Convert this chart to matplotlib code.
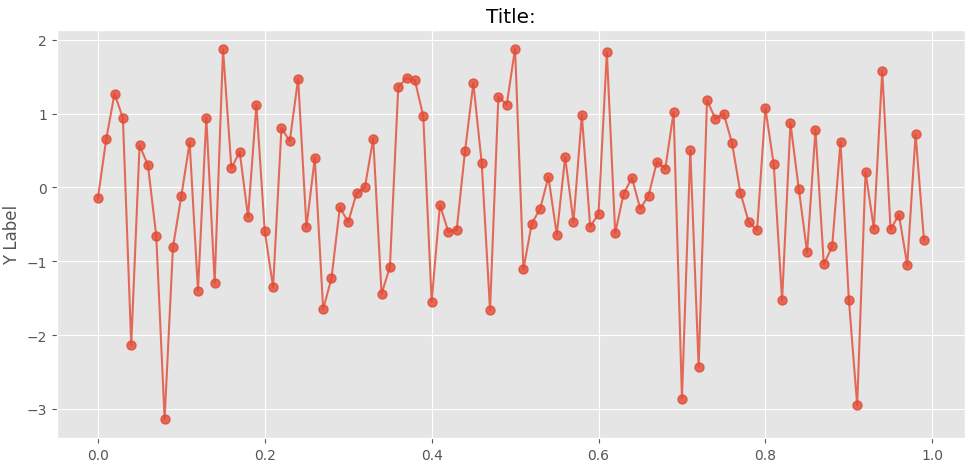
import matplotlib
matplotlib.use('Agg')
from matplotlib import pyplot as plt
import numpy as np

plt.style.use('ggplot')

x = np.arange(100) / 100.0
y = [-0.15, 0.65, 1.27, 0.94, -2.13, 0.57, 0.30, -0.66, -3.14, -0.81,
     -0.12, 0.61, -1.40, 0.94, -1.29, 1.87, 0.26, 0.48, -0.40, 1.12,
     -0.59, -1.35, 0.80, 0.63, 1.47, -0.54, 0.40, -1.65, -1.23, -0.27,
     -0.47, -0.08, 0.00, 0.66, -1.44, -1.08, 1.36, 1.48, 1.45, 0.96,
     -1.55, -0.24, -0.60, -0.58, 0.49, 1.41, 0.33, -1.66, 1.23, 1.12,
     1.88, -1.11, -0.49, -0.29, 0.14, -0.64, 0.41, -0.47, 0.98, -0.53,
     -0.36, 1.83, -0.62, -0.09, 0.13, -0.29, -0.11, 0.35, 0.25, 1.02,
     -2.86, 0.50, -2.43, 1.18, 0.93, 1.00, 0.60, -0.07, -0.47, -0.58,
     1.07, 0.31, -1.53, 0.87, -0.02, -0.88, 0.78, -1.04, -0.80, 0.62,
     -1.52, -2.95, 0.21, -0.56, 1.58, -0.57, -0.37, -1.05, 0.72, -0.71]

fig, ax = plt.subplots(figsize=(9.75, 4.77), dpi=100)
ax.plot(x, y, marker='o', markersize=6.5, alpha=0.8, color='#E24A33')
ax.set_title('Title:')
ax.set_ylabel('Y Label')
fig.subplots_adjust(left=0.058, right=0.99, top=0.935, bottom=0.08)
fig.savefig('out.png')
